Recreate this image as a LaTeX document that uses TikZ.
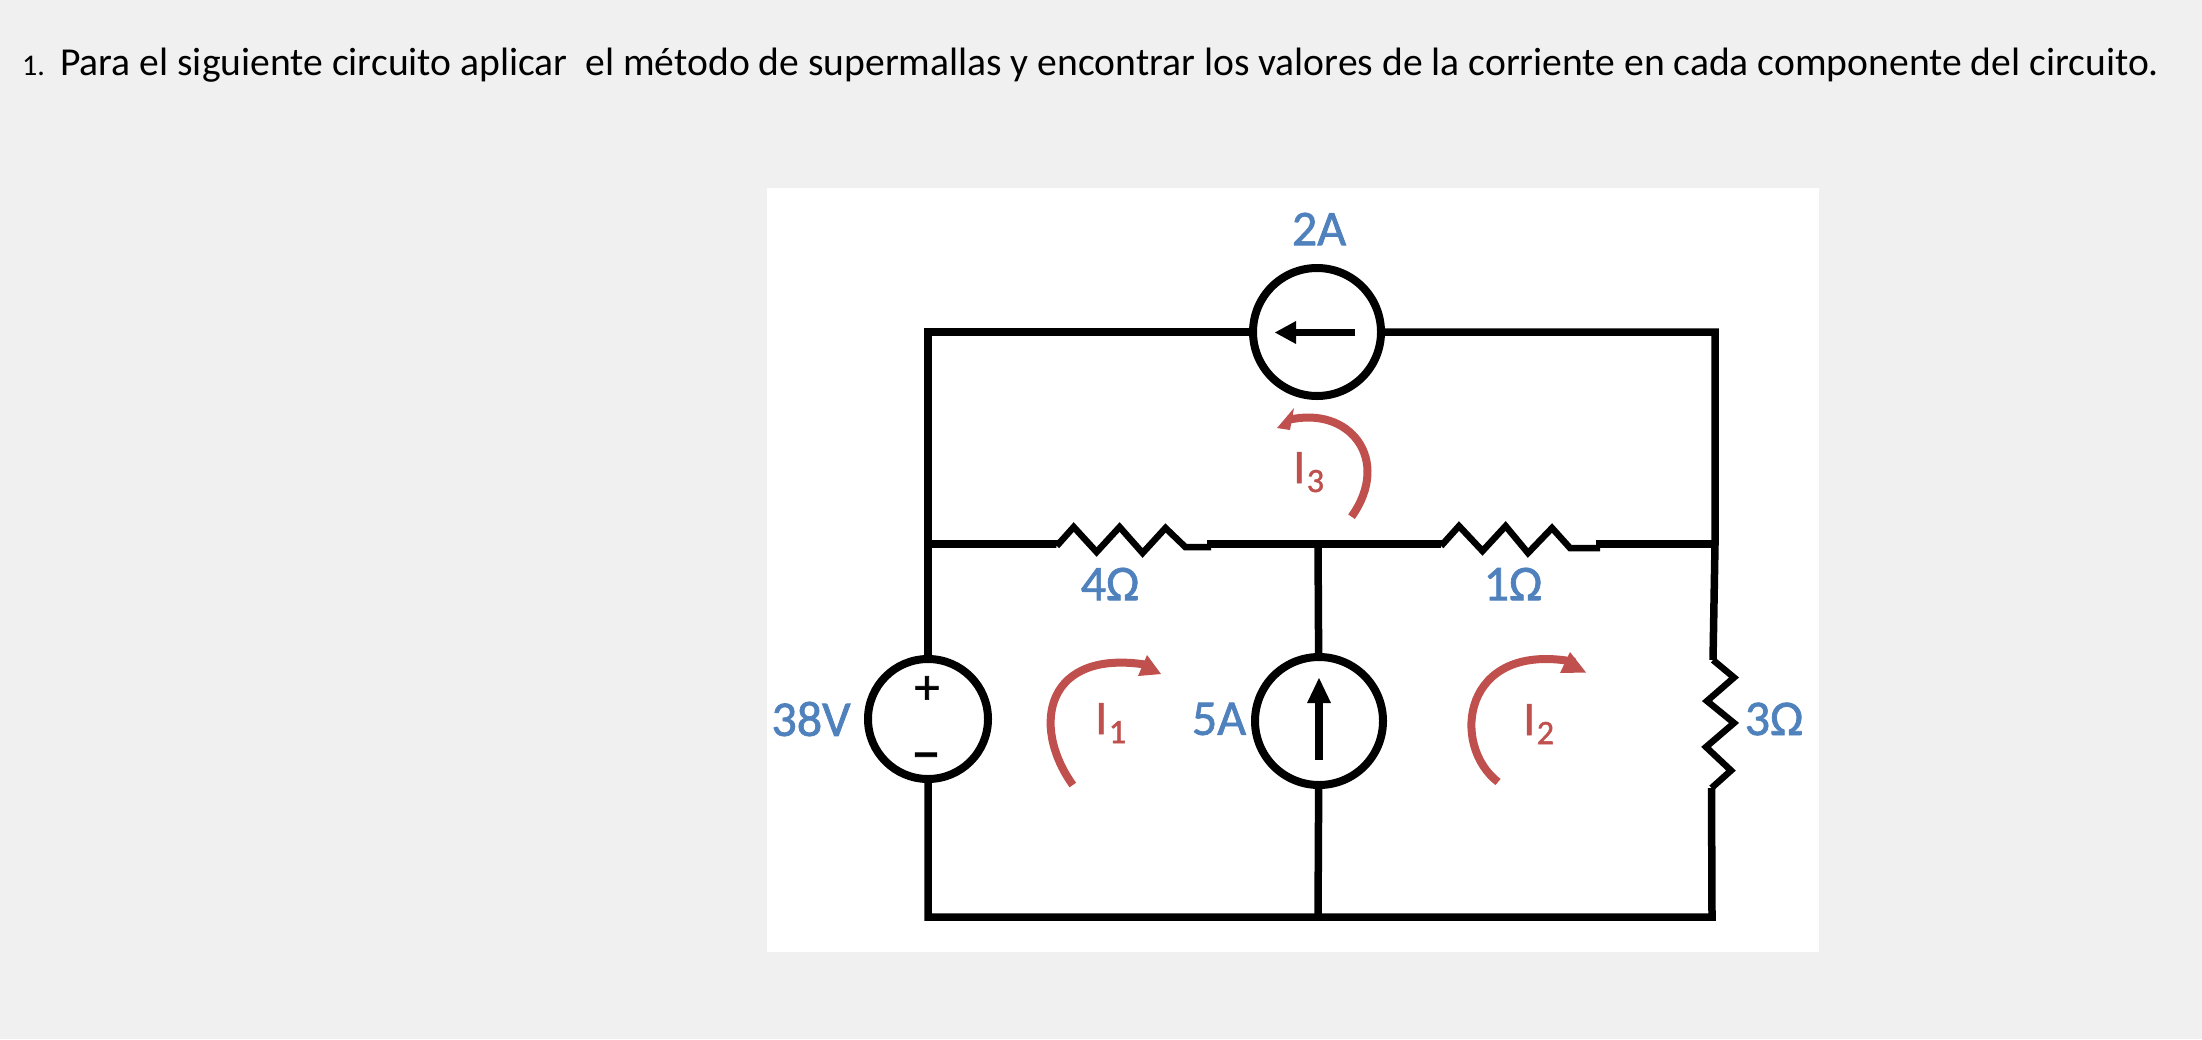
\documentclass[tikz,border=0pt]{standalone}
\usepackage{fontspec}
\setmainfont{Carlito}
\newfontface\heavyface{Carlito}[FakeBold=1.4]
\definecolor{pagebg}{HTML}{F0F0F0}
\definecolor{lblblue}{HTML}{4F81BD}
\definecolor{loopred}{HTML}{C0504D}
\newcommand{\fsz}[1]{\fontsize{#1}{#1}\selectfont}
\newcommand{\meshlabel}[1]{\fsz{48}I\kern1.5pt\raisebox{-9pt}{\fsz{34}#1}}
\tikzset{
  wire/.style={line width=7.5pt,line join=miter,black},
  reswire/.style={line width=6.5pt,line join=miter,miter limit=3,black},
  srcnode/.style={circle,draw=black,line width=8pt,inner sep=0pt,minimum size=#1},
  val/.style={text=lblblue,font=\heavyface\fsz{50},inner sep=0pt},
  mesh/.style={text=loopred,font=\heavyface,inner sep=0pt},
  loopline/.style={line width=8pt,loopred,line cap=butt},
  loophead/.style={fill=loopred,draw=none},
  srcarrow/.style={line width=7.5pt,black},
  srchead/.style={fill=black,draw=none},
}
\begin{document}
\begin{tikzpicture}[x=1pt,y=-1pt]
\fill[pagebg] (0,0) rectangle (2202,1039);
\useasboundingbox (0,0) rectangle (2202,1039);
\fill[white] (767,188) rectangle (1819,952);

% title
\node[anchor=base west,inner sep=0pt,font=\fsz{30}] (num) at (22,75) {1.};
\node[anchor=base west,inner sep=0pt,font=\fsz{39.6}] (title) at (60,75) {Para el siguiente circuito aplicar\ \ el método de supermallas y encontrar los valores de la corriente en cada componente del circuito.};

% junctions
\coordinate (tl) at (928,332);
\coordinate (tr) at (1715,332);
\coordinate (ml) at (928,544);
\coordinate (mc) at (1318,544);
\coordinate (mr) at (1715,544);
\coordinate (bl) at (928,917);
\coordinate (bc) at (1318,917);
\coordinate (br) at (1712,917);

% sources
\node[srcnode=128pt] (s2) at (1317,332) {};
\node[srcnode=120pt] (s38) at (928,719) {};
\node[srcnode=128pt] (s5) at (1319,721) {};

% resistor ends
\coordinate (r4a) at (1056.7,546);
\coordinate (r4b) at (1211,547);
\coordinate (r1a) at (1441,546);
\coordinate (r1b) at (1600,548);
\coordinate (r3a) at (1713,660);
\coordinate (r3b) at (1711.5,788);

% wires
\draw[wire] (s2) -- (tl) -- (ml) -- (s38);
\draw[wire] (s2) -- (tr) -- (mr) -- (r3a);
\draw[wire] (ml) -- (1056.7,544) -- (r4a);
\draw[wire] (r4b) -- (1211,544) -- (mc) -- (1441,544) -- (r1a);
\draw[wire] (r1b) -- (1600,544) -- (mr);
\draw[wire] (mc) -- (s5);
\draw[wire] (s5) -- (bc);
\draw[wire] (s38) -- (bl) -- (bc) -- (br) -- (r3b);

% resistors
\draw[reswire] (r4a) -- (1073.7,527) -- (1096.6,552) -- (1119.6,527) -- (1142.6,553) -- (1165.5,528) -- (1185.3,547) -- (r4b);
\draw[reswire] (r1a) -- (1459,526) -- (1482.5,551) -- (1505.6,526) -- (1528,553) -- (1552,528) -- (1570,548) -- (r1b);
\draw[reswire] (r3a) -- (1734,677.5) -- (1707,701) -- (1734,723) -- (1706,747) -- (1731,770.5) -- (r3b);

% source arrows
\coordinate (a2s) at (1355,332.5);
\coordinate (a2e) at (1293,332.5);
\draw[srcarrow] (a2s) -- (a2e);
\fill[srchead] (1275,332.5) -- (1296,321) -- (1296,344) -- cycle;
\coordinate (a5s) at (1319,760);
\coordinate (a5e) at (1319,700);
\draw[srcarrow] (a5s) -- (a5e);
\fill[srchead] (1319,678) -- (1331,703) -- (1307,703) -- cycle;

% polarity
\node[inner sep=0pt,font=\heavyface\fsz{50}] (plus) at (927,690) {+};
\node[inner sep=0pt,font=\heavyface\fsz{58}] (minus) at (926,763) {−};

% values
\node[val] (l2a) at (1319,229) {2A};
\node[val] (l4) at (1110,584) {4Ω};
\node[val] (l1) at (1513,584) {1Ω};
\node[val] (l3) at (1774,719) {3Ω};
\node[val] (l38) at (811,719) {38V};
\node[val] (l5) at (1219,719) {5A};

% mesh labels
\node[mesh,anchor=base west] (i1) at (1095,734) {\meshlabel{1}};
\node[mesh,anchor=base west] (i2) at (1523,735) {\meshlabel{2}};
\node[mesh,anchor=base west] (i3) at (1293,483) {\meshlabel{3}};

% mesh loops
\draw[loopline] (1072.8,785) .. controls (1030,725) and (1046,648) .. (1148,665);
\fill[loophead] (1161,674) -- (1147,655) -- (1138,676) -- cycle;
\draw[loopline] (1498,782) .. controls (1450,745) and (1462,640) .. (1575,662);
\fill[loophead] (1586,672.5) -- (1570,652) -- (1560,673) -- cycle;
\draw[loopline] (1351.5,516.7) .. controls (1392,460) and (1350,405) .. (1288,420);
\fill[loophead] (1277,428) -- (1294,408) -- (1290,430) -- cycle;
\end{tikzpicture}
\end{document}
